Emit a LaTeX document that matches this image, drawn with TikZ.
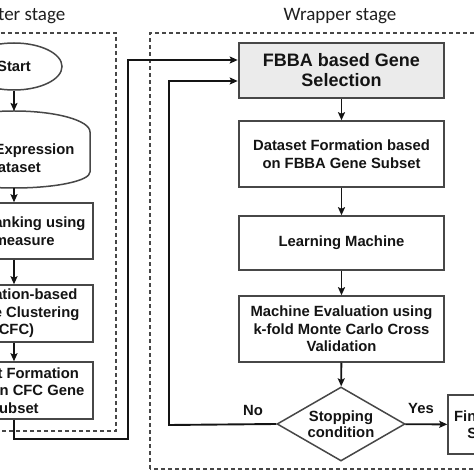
\documentclass[tikz,border=0pt]{standalone}
\usepackage{fontspec}
\setmainfont{Liberation Sans}
\newfontfamily\stagefont{Carlito}
\usetikzlibrary{arrows.meta,shapes.geometric}

\begin{document}
\begin{tikzpicture}[x=1pt, y=1pt,
	blk/.style={draw=black!72, line width=1.5pt, fill=white, align=center, inner sep=1pt,
		text=black!92, font=\fontsize{14.8}{17.5}\selectfont\bfseries},
	txt/.style={align=center, inner sep=0pt, text=black!92, font=\fontsize{14.8}{17.5}\selectfont\bfseries},
	arr/.style={-{Stealth[length=8pt, width=7pt, inset=1.5pt]}, line width=1.9pt, draw=black!92},
	stagebox/.style={draw=black!72, line width=1.1pt, dash pattern=on 4pt off 3pt},
	stagetitle/.style={anchor=base, inner sep=0pt, text=black!88, font=\stagefont\fontsize{19}{21}\selectfont}]
			%%%%% START %%%%%
			
			\useasboundingbox (0, 0) rectangle (474, 474);
			\clip (0, 0) rectangle (474, 474);
			
			\draw[stagebox] (-70, 43) rectangle (116, 441);
			\draw[stagebox] (150, 5) rectangle (530, 441);
			\node[stagetitle] (filtertitle) at (23, 453) {Filter stage};
			\node[stagetitle] (wraptitle) at (340, 453) {Wrapper stage};
			
			% filter stage
			\node[blk, ellipse, minimum width=96, minimum height=47, inner sep=0pt] (start) at (14, 407.5) {Start};
			
			\draw[draw=black!72, line width=1.5pt, fill=white] (-62, 342) arc (180:0:76 and 21) -- (90, 302) arc (0:-180:76 and 16) -- cycle;
			\coordinate (datatop) at (14, 363);
			\coordinate (databot) at (14, 286);
			\node[txt] (data) at (14, 316) {Gene Expression\\Dataset};
			
			\node[blk, minimum width=158, minimum height=56] (rank) at (14, 243) {Gene Ranking using\\MI measure};
			\node[blk, minimum width=158, minimum height=57] (cfc) at (14, 160.5) {Correlation-based\\Feature Clustering\\(CFC)};
			\node[blk, minimum width=158, minimum height=57] (sub) at (14, 83.5) {Dataset Formation\\based on CFC Gene\\Subset};
			
			\draw[arr] (start) -- (datatop);
			\draw[arr] (databot) -- (rank);
			\draw[arr] (rank) -- (cfc);
			\draw[arr] (cfc) -- (sub);
			
			% wrapper stage
			\node[blk, fill=black!8, line width=2.6pt, minimum width=205, minimum height=55,
				font=\fontsize{18}{20}\selectfont\bfseries] (fbba) at (341.5, 403.5) {FBBA based Gene\\Selection};
			\node[blk, minimum width=205, minimum height=66] (dsf) at (341.5, 320) {Dataset Formation based\\on FBBA Gene Subset};
			\node[blk, minimum width=205, minimum height=54] (learn) at (341.5, 231) {Learning Machine};
			\node[blk, minimum width=205, minimum height=66] (eval) at (341.5, 145) {Machine Evaluation using\\k-fold Monte Carlo Cross\\Validation};
			\node[blk, diamond, aspect=1.73, minimum width=128, minimum height=74, inner sep=0pt,
				font=\fontsize{14.8}{16.5}\selectfont\bfseries] (cond) at (341, 50) {Stopping\\condition};
			\node[blk, minimum width=88, minimum height=59] (final) at (492, 49.5) {Final Gene\\Subset};
			
			\draw[arr] (fbba) -- (dsf);
			\draw[arr] (dsf) -- (learn);
			\draw[arr] (learn) -- (eval);
			\draw[arr] (eval) -- (cond);
			\draw[arr] (cond) -- (final);
			\node[txt] (yes) at (421, 66) {Yes};
			
			% loops back to selection
			\coordinate (loopa) at (128, 35);
			\coordinate (loopb) at (169, 49);
			\draw[arr] (sub.south) |- (loopa) |- ([yshift=10.5pt]fbba.west);
			\draw[arr] (cond.west) -- (loopb) |- ([yshift=-10.5pt]fbba.west);
			\node[txt] (no) at (253, 64) {No};
			
			%%%%% END %%%%%
		\end{tikzpicture}
\end{document}
